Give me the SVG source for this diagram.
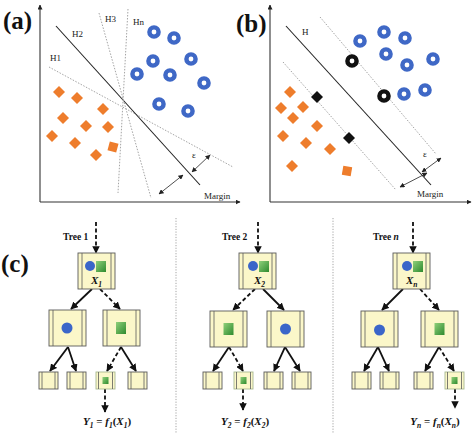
<svg xmlns="http://www.w3.org/2000/svg" xmlns:xlink="http://www.w3.org/1999/xlink" width="474" height="434" viewBox="0 0 474 434">
<style>
.lbl{font-family:"Liberation Serif",serif;font-weight:bold;font-size:25px;fill:#111}
.sm{font-family:"Liberation Serif",serif;font-size:9px;fill:#222}
.tree{font-family:"Liberation Serif",serif;font-weight:bold;font-size:9.5px;fill:#111}
.math{font-family:"Liberation Serif",serif;font-weight:bold;font-style:italic;font-size:11px;fill:#111}
.up{font-style:normal}
.axis{stroke:#333;stroke-width:1.1;fill:none}
.dot{stroke:#9a9a9a;stroke-width:0.9;stroke-dasharray:1.5,1.5;fill:none}
.solid{stroke:#222;stroke-width:1.1;fill:none}
.dbl{stroke:#222;stroke-width:0.8;fill:none}
.ring{fill:#fff;stroke:#3f68c6;stroke-width:4.4}
.bring{fill:#fff;stroke:#111;stroke-width:4.4}
.dia{fill:#ee7d2c}
.bdia{fill:#111}
.box{fill:#fbf7c9;stroke:#5a5a5a;stroke-width:0.9}
.hbox{fill:#fbf7c9;stroke:#a8b890;stroke-width:0.9}
.in{stroke:#5a5a5a;stroke-width:0.8}
.blue{fill:#3b66c9}
.grn{fill:url(#g)}
.ta{stroke:#111;stroke-width:1.8;fill:none}
.td{stroke:#111;stroke-width:1.8;stroke-dasharray:4,2.5;fill:none}
.sep{stroke:#9a9a9a;stroke-width:0.9;stroke-dasharray:1.2,1.5}
</style>
<defs>
<linearGradient id="g" x1="0" y1="0" x2="1" y2="1">
<stop offset="0" stop-color="#8fd07a"/><stop offset="1" stop-color="#2e8a2e"/>
</linearGradient>
<marker id="ah" viewBox="0 0 10 10" refX="9" refY="5" markerWidth="5" markerHeight="5" orient="auto-start-reverse" markerUnits="userSpaceOnUse"><path d="M0,0 L10,5 L0,10 Z" fill="#222"/></marker>
<marker id="th" viewBox="0 0 10 10" refX="9" refY="5" markerWidth="4.2" markerHeight="4.2" orient="auto"><path d="M0,0 L10,5 L0,10 Z" fill="#111"/></marker>
<path id="dia" d="M0,-6 L6,0 L0,6 L-6,0 Z"/>
<g id="big"><rect class="box" x="0" y="0" width="37" height="36"/><line class="in" x1="4" y1="0" x2="4" y2="36"/><line class="in" x1="33" y1="0" x2="33" y2="36"/></g>
<g id="leaf"><rect class="box" x="0" y="0" width="19" height="17"/><line class="in" x1="3" y1="0" x2="3" y2="17"/><line class="in" x1="16" y1="0" x2="16" y2="17"/></g>
<g id="hleaf"><rect class="hbox" x="0" y="0" width="19" height="17"/><line class="in" x1="2.5" y1="0" x2="2.5" y2="17" stroke="#b8c0a0"/><line class="in" x1="16.5" y1="0" x2="16.5" y2="17" stroke="#b8c0a0"/><rect class="grn" x="6.5" y="5" width="6" height="7"/></g>
</defs>

<!-- Panel labels -->
<text class="lbl" x="3" y="29">(a)</text>
<text class="lbl" x="236" y="32">(b)</text>
<text class="lbl" x="1" y="272">(c)</text>

<!-- Panel (a) -->
<g id="panel-a">
<line class="axis" x1="40" y1="202" x2="40" y2="5" marker-end="url(#ah)"/>
<line class="axis" x1="40" y1="202" x2="240" y2="202" marker-end="url(#ah)"/>
<line class="dot" x1="49" y1="67" x2="233" y2="167"/>
<line class="solid" x1="56" y1="26" x2="200" y2="185"/>
<line class="dot" x1="99" y1="13" x2="151" y2="198"/>
<line class="dot" x1="128" y1="9" x2="118" y2="193"/>
<text class="sm" x="50" y="61">H1</text>
<text class="sm" x="72" y="37">H2</text>
<text class="sm" x="105" y="22">H3</text>
<text class="sm" x="133" y="25">Hn</text>
<text class="sm" x="192" y="158">ε</text>
<line class="dbl" x1="192" y1="172" x2="210" y2="155" marker-start="url(#ah)" marker-end="url(#ah)"/>
<line class="dbl" x1="159" y1="194" x2="183" y2="175" marker-start="url(#ah)" marker-end="url(#ah)"/>
<text class="sm" x="204" y="199">Margin</text>
<circle class="ring" cx="154" cy="32" r="4.6"/>
<circle class="ring" cx="174" cy="38" r="4.6"/>
<circle class="ring" cx="153" cy="61" r="4.6"/>
<circle class="ring" cx="191" cy="59" r="4.6"/>
<circle class="ring" cx="137" cy="74" r="4.6"/>
<circle class="ring" cx="170" cy="75" r="4.6"/>
<circle class="ring" cx="204" cy="83" r="4.6"/>
<circle class="ring" cx="159" cy="104" r="4.6"/>
<circle class="ring" cx="188" cy="111" r="4.6"/>
<use href="#dia" class="dia" x="59" y="92"/>
<use href="#dia" class="dia" x="77" y="98"/>
<use href="#dia" class="dia" x="103" y="109"/>
<use href="#dia" class="dia" x="63" y="118"/>
<use href="#dia" class="dia" x="86" y="126"/>
<use href="#dia" class="dia" x="108" y="127"/>
<use href="#dia" class="dia" x="52" y="136"/>
<use href="#dia" class="dia" x="75" y="143"/>
<use href="#dia" class="dia" x="96" y="155"/>
<rect class="dia" x="-4.5" y="-4.5" width="9" height="9" transform="translate(113 147) rotate(15)"/>
</g>

<!-- Panel (b) -->
<g id="panel-b">
<line class="axis" x1="270" y1="202" x2="270" y2="5" marker-end="url(#ah)"/>
<line class="axis" x1="270" y1="202" x2="471" y2="202" marker-end="url(#ah)"/>
<line class="solid" x1="286" y1="26" x2="431" y2="185"/>
<line class="dot" x1="320" y1="17" x2="436" y2="154"/>
<line class="dot" x1="283" y1="62" x2="396" y2="190"/>
<text class="sm" x="302" y="35">H</text>
<text class="sm" x="423" y="157">ε</text>
<line class="dbl" x1="422" y1="172" x2="441" y2="158" marker-start="url(#ah)" marker-end="url(#ah)"/>
<line class="dbl" x1="400" y1="187" x2="427" y2="173" marker-start="url(#ah)" marker-end="url(#ah)"/>
<text class="sm" x="417" y="197">Margin</text>
<circle class="ring" cx="360" cy="41" r="4.6"/>
<circle class="ring" cx="384" cy="32" r="4.6"/>
<circle class="ring" cx="405" cy="38" r="4.6"/>
<circle class="ring" cx="386" cy="54" r="4.6"/>
<circle class="ring" cx="407" cy="65" r="4.6"/>
<circle class="ring" cx="433" cy="59" r="4.6"/>
<circle class="ring" cx="404" cy="94" r="4.6"/>
<circle class="ring" cx="425" cy="90" r="4.6"/>
<circle class="bring" cx="352" cy="61" r="4.6"/>
<circle class="bring" cx="384" cy="96" r="4.6"/>
<use href="#dia" class="bdia" x="317" y="97"/>
<use href="#dia" class="bdia" x="349" y="138"/>
<use href="#dia" class="dia" x="290" y="92"/>
<use href="#dia" class="dia" x="281" y="108"/>
<use href="#dia" class="dia" x="303" y="107"/>
<use href="#dia" class="dia" x="293" y="118"/>
<use href="#dia" class="dia" x="317" y="126"/>
<use href="#dia" class="dia" x="283" y="136"/>
<use href="#dia" class="dia" x="306" y="143"/>
<use href="#dia" class="dia" x="330" y="149"/>
<use href="#dia" class="dia" x="292" y="166"/>
<rect class="dia" x="-4.5" y="-4.5" width="9" height="9" transform="translate(347 171) rotate(10)"/>
</g>

<!-- Separators -->
<g id="separators">
<line class="sep" x1="176" y1="218" x2="176" y2="434"/>
<line class="sep" x1="333" y1="218" x2="333" y2="434"/>
</g>

<!-- Connectors -->
<g id="connectors">
<line class="td" x1="96" y1="222" x2="96" y2="253" marker-end="url(#th)"/>
<line class="ta" x1="92" y1="289" x2="71" y2="309" marker-end="url(#th)"/>
<line class="td" x1="100" y1="289" x2="120" y2="309" marker-end="url(#th)"/>
<line class="ta" x1="68" y1="347" x2="50" y2="371" marker-end="url(#th)"/>
<line class="ta" x1="68" y1="347" x2="76" y2="371" marker-end="url(#th)"/>
<line class="td" x1="121" y1="347" x2="107" y2="371" marker-end="url(#th)"/>
<line class="ta" x1="121" y1="347" x2="136" y2="371" marker-end="url(#th)"/>
<line class="td" x1="105" y1="389" x2="105" y2="412" marker-end="url(#th)"/>

<line class="td" x1="258" y1="222" x2="258" y2="253" marker-end="url(#th)"/>
<line class="td" x1="255" y1="289" x2="233" y2="310" marker-end="url(#th)"/>
<line class="ta" x1="263" y1="289" x2="284" y2="310" marker-end="url(#th)"/>
<line class="ta" x1="229" y1="347" x2="213" y2="371" marker-end="url(#th)"/>
<line class="td" x1="229" y1="347" x2="243" y2="371" marker-end="url(#th)"/>
<line class="ta" x1="285" y1="347" x2="274" y2="371" marker-end="url(#th)"/>
<line class="ta" x1="285" y1="347" x2="300" y2="371" marker-end="url(#th)"/>
<line class="td" x1="243" y1="389" x2="243" y2="410" marker-end="url(#th)"/>

<line class="td" x1="413" y1="222" x2="413" y2="253" marker-end="url(#th)"/>
<line class="ta" x1="403" y1="289" x2="382" y2="310" marker-end="url(#th)"/>
<line class="td" x1="420" y1="289" x2="439" y2="310" marker-end="url(#th)"/>
<line class="ta" x1="378" y1="347" x2="364" y2="371" marker-end="url(#th)"/>
<line class="ta" x1="378" y1="347" x2="389" y2="371" marker-end="url(#th)"/>
<line class="ta" x1="439" y1="347" x2="425" y2="371" marker-end="url(#th)"/>
<line class="td" x1="439" y1="347" x2="454" y2="371" marker-end="url(#th)"/>
<line class="td" x1="455" y1="389" x2="455" y2="408" marker-end="url(#th)"/>
</g>

<!-- Tree 1 -->
<text class="tree" x="63" y="240">Tree 1</text>
<g id="t1-root"><use href="#big" x="78" y="253"/><circle class="blue" cx="90" cy="266" r="5"/><rect class="grn" x="96" y="261" width="10" height="11"/><text class="math" x="91" y="284">X<tspan font-size="7.5" dy="2.5">1</tspan></text></g>
<g id="t1-l"><use href="#big" x="49" y="310"/><circle class="blue" cx="67" cy="328" r="5.5"/></g>
<g id="t1-r"><use href="#big" x="103" y="310"/><rect class="grn" x="116" y="322" width="10" height="12"/></g>
<g id="t1-a"><use href="#leaf" x="39" y="372"/></g>
<g id="t1-b"><use href="#leaf" x="67" y="372"/></g>
<g id="t1-c"><use href="#hleaf" x="96" y="372"/></g>
<g id="t1-d"><use href="#leaf" x="128" y="372"/></g>
<text class="math" x="107" y="425" text-anchor="middle">Y<tspan font-size="7.5" dy="2.5">1</tspan><tspan class="up" dy="-2.5"> = </tspan>f<tspan font-size="7.5" dy="2.5">1</tspan><tspan class="up" dy="-2.5">(</tspan>X<tspan font-size="7.5" dy="2.5">1</tspan><tspan class="up" dy="-2.5">)</tspan></text>

<!-- Tree 2 -->
<text class="tree" x="222" y="240">Tree 2</text>
<g id="t2-root"><use href="#big" x="239" y="253"/><circle class="blue" cx="253" cy="266" r="5"/><rect class="grn" x="259" y="261" width="10" height="11"/><text class="math" x="254" y="284">X<tspan font-size="7.5" dy="2.5">2</tspan></text></g>
<g id="t2-l"><use href="#big" x="210" y="311"/><rect class="grn" x="223.5" y="323" width="10" height="12"/></g>
<g id="t2-r"><use href="#big" x="267" y="311"/><circle class="blue" cx="285.5" cy="329" r="5.5"/></g>
<g id="t2-a"><use href="#leaf" x="203" y="372"/></g>
<g id="t2-b"><use href="#hleaf" x="234" y="372"/></g>
<g id="t2-c"><use href="#leaf" x="264" y="372"/></g>
<g id="t2-d"><use href="#leaf" x="292" y="372"/></g>
<text class="math" x="245" y="425" text-anchor="middle">Y<tspan font-size="7.5" dy="2.5">2</tspan><tspan class="up" dy="-2.5"> = </tspan>f<tspan font-size="7.5" dy="2.5">2</tspan><tspan class="up" dy="-2.5">(</tspan>X<tspan font-size="7.5" dy="2.5">2</tspan><tspan class="up" dy="-2.5">)</tspan></text>

<!-- Tree n -->
<text class="tree" x="373" y="240">Tree <tspan font-style="italic">n</tspan></text>
<g id="tn-root"><use href="#big" x="393" y="253"/><circle class="blue" cx="407" cy="266" r="5"/><rect class="grn" x="413" y="261" width="10" height="11"/><text class="math" x="406" y="284">X<tspan font-size="7.5" dy="2.5">n</tspan></text></g>
<g id="tn-l"><use href="#big" x="361" y="311"/><circle class="blue" cx="379.5" cy="330" r="5.5"/></g>
<g id="tn-r"><use href="#big" x="421" y="311"/><rect class="grn" x="434.5" y="323" width="10" height="12"/></g>
<g id="tn-a"><use href="#leaf" x="352" y="372"/></g>
<g id="tn-b"><use href="#leaf" x="380" y="372"/></g>
<g id="tn-c"><use href="#leaf" x="414" y="372"/></g>
<g id="tn-d"><use href="#hleaf" x="445" y="372"/></g>
<text class="math" x="435" y="425" text-anchor="middle">Y<tspan font-size="7.5" dy="2.5">n</tspan><tspan class="up" dy="-2.5"> = </tspan>f<tspan font-size="7.5" dy="2.5">n</tspan><tspan class="up" dy="-2.5">(</tspan>X<tspan font-size="7.5" dy="2.5">n</tspan><tspan class="up" dy="-2.5">)</tspan></text>
</svg>
